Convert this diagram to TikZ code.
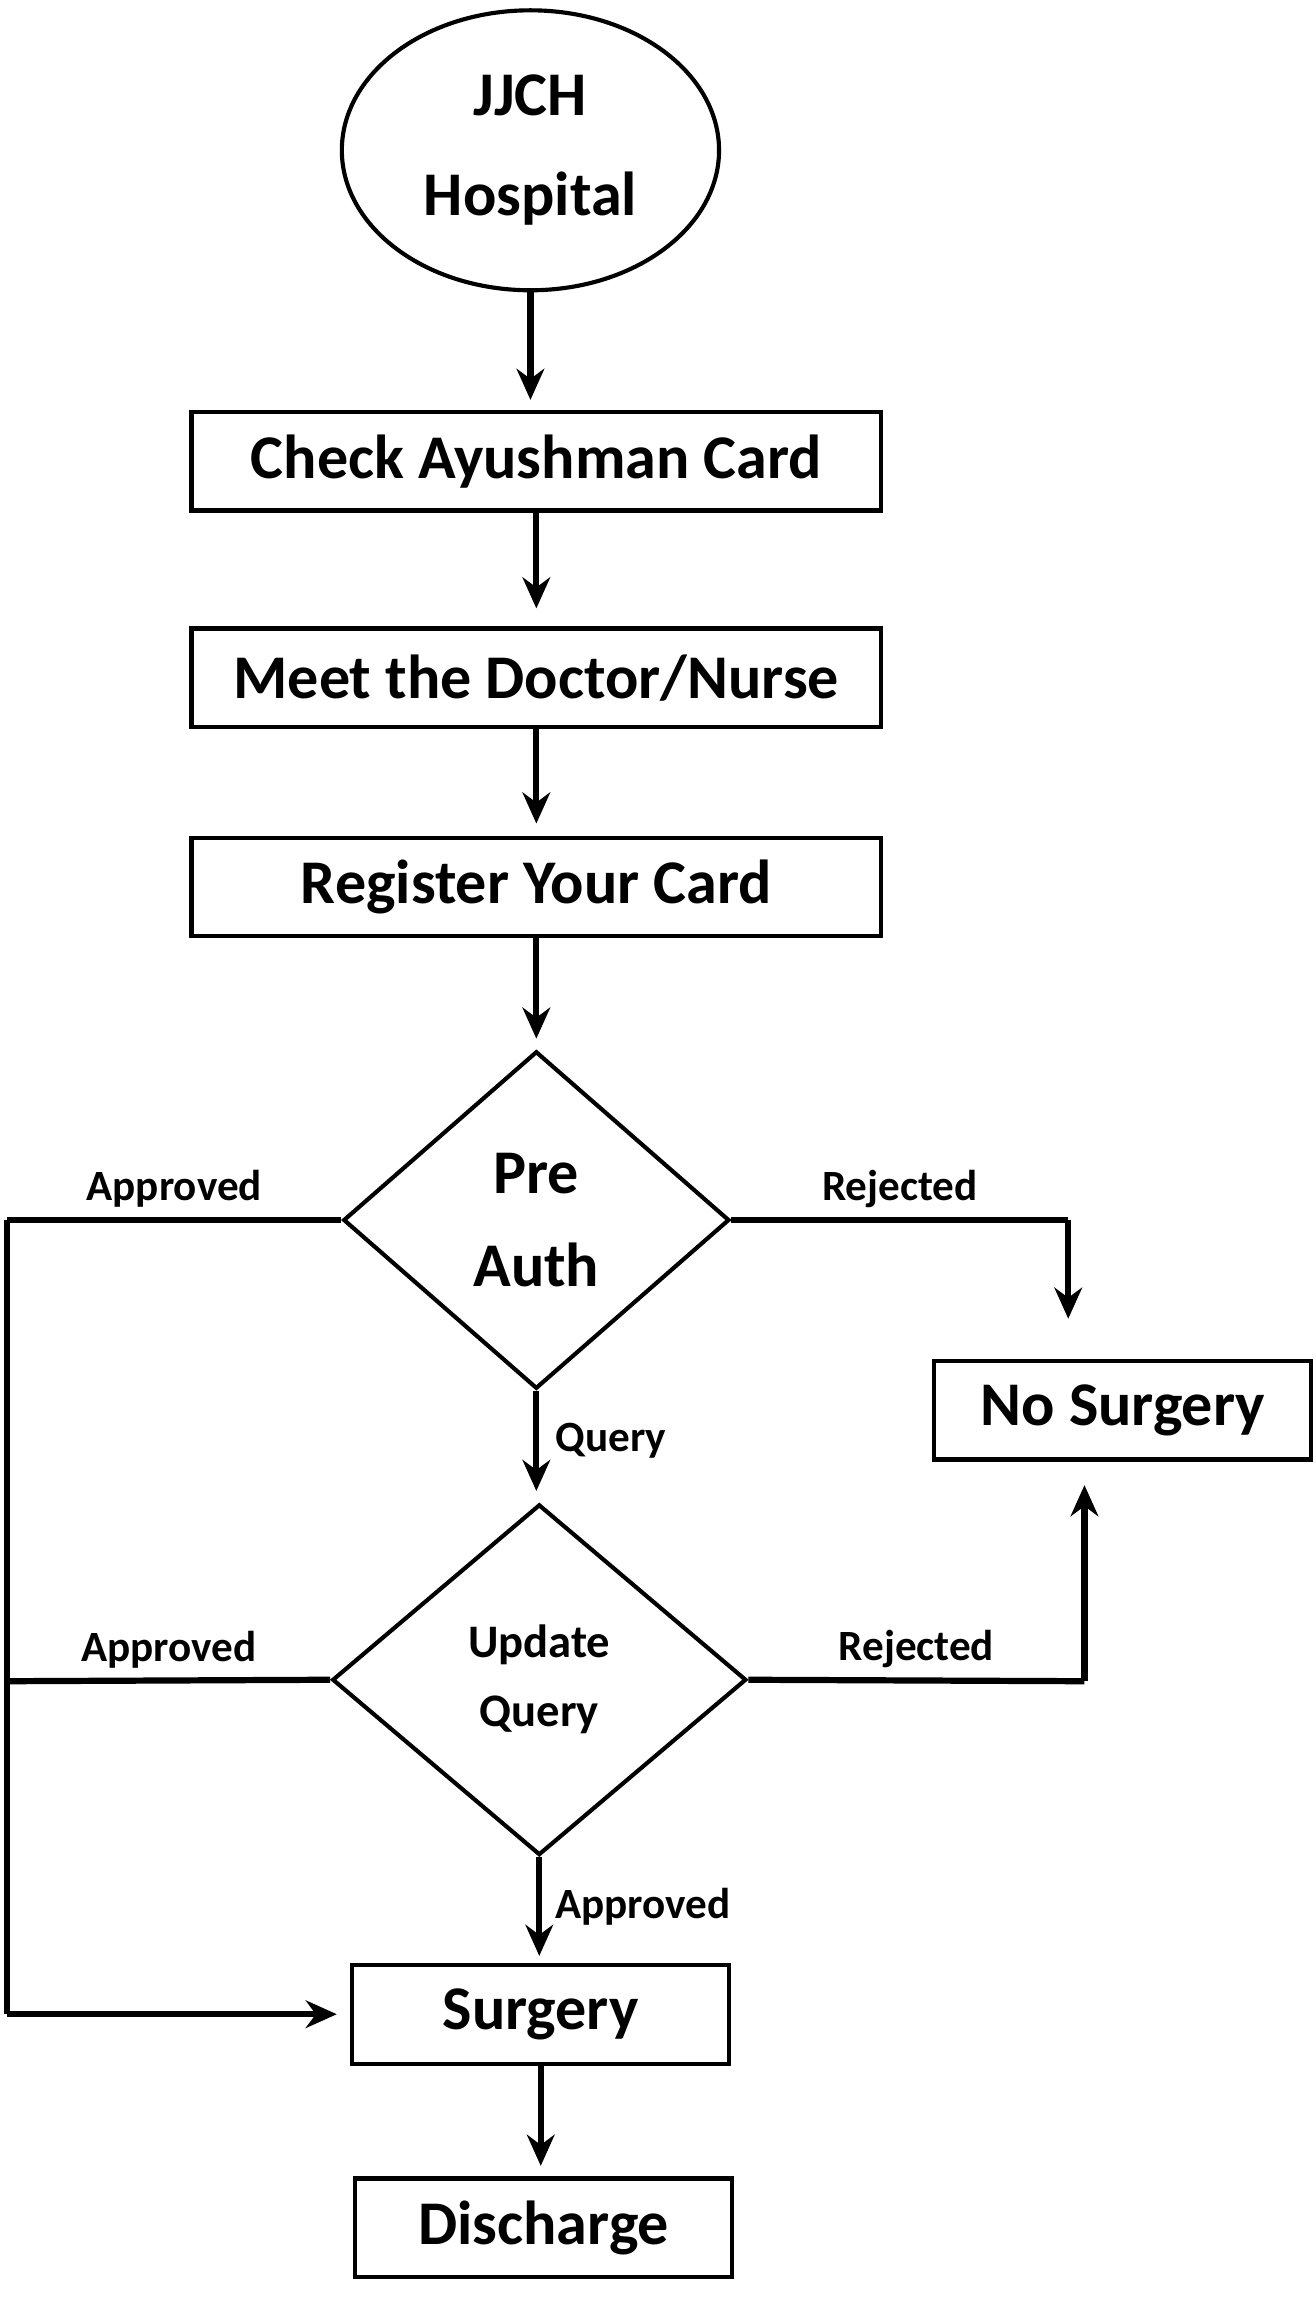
\documentclass[tikz,border=0pt]{standalone}
\usepackage{fontspec}
\setmainfont{Carlito}
\usetikzlibrary{shapes.geometric,arrows.meta}
\tikzset{
  box/.style={draw, line width=2.4pt, minimum width=14.04cm, minimum height=2.01cm, inner sep=0pt, font=\fontsize{36}{40}\selectfont\bfseries},
  smallbox/.style={box, minimum width=7.68cm},
  dec/.style={draw, diamond, line width=2.4pt, inner sep=0pt, align=center},
  lab/.style={font=\fontsize{25}{28}\selectfont\bfseries},
  flow/.style={line width=3.6pt, -{Stealth[length=18pt,width=16pt]}},
  line/.style={line width=3.6pt}
}
\begin{document}
\begin{tikzpicture}[x=0.03cm, y=-0.03cm]
	\useasboundingbox (0,0) rectangle (893,1563);
	%start
	\node[draw, ellipse, line width=2.4pt, minimum width=7.68cm, minimum height=5.7cm, align=center, font=\fontsize{36}{58}\selectfont\bfseries] (hosp) at (360,102) {JJCH\\Hospital};
	%steps
	\node[box] (check) at (364,313) {Check Ayushman Card};
	\node[box] (meet) at (364,460) {Meet the Doctor/Nurse};
	\node[box] (reg) at (364,602) {Register Your Card};
	%decisions
	\node[dec, minimum width=7.86cm, minimum height=6.87cm, font=\fontsize{36}{54}\selectfont\bfseries] (pre) at (364,828) {Pre\\Auth};
	\node[dec, minimum width=8.43cm, minimum height=7.14cm, font=\fontsize{27}{40}\selectfont\bfseries] (upd) at (366,1140) {Update\\Query};
	%ends
	\node[smallbox] (nosurg) at (762,957) {No Surgery};
	\node[smallbox] (surg) at (367,1367) {Surgery};
	\node[smallbox] (dis) at (369,1512) {Discharge};
	%helper points
	\coordinate (rt) at (725,828);
	\coordinate (rtend) at (725,895);
	\coordinate (rb) at (736,1141);
	\coordinate (lt) at (5,828);
	\coordinate (lm) at (5,1141);
	\coordinate (lb) at (5,1367);
	%main flow
	\draw[flow] (hosp.south) -- ++(0,73);
	\draw[flow] (check.south) -- ++(0,65);
	\draw[flow] (meet.south) -- ++(0,64);
	\draw[flow] (reg.south) -- ++(0,68);
	\draw[flow] (pre.south) -- ++(0,68) node[midway, right=6pt, lab] {Query};
	\draw[flow] (upd.south) -- ++(0,67) node[midway, right=4pt, lab] {Approved};
	\draw[flow] (surg.south) -- ++(0,68);
	%rejected
	\draw[line] (pre.east) -- (rt) node[midway, above=2pt, lab] {Rejected};
	\draw[flow] (rt) -- (rtend);
	\draw[line] (upd.east) -- (rb) node[midway, above=2pt, lab] {Rejected};
	\draw[flow] (rb) -- ([xshift=-26*0.03cm, yshift=-16*0.03cm]nosurg.south);
	%approved
	\draw[line] (pre.west) -- (lt) node[midway, above=2pt, lab] {Approved};
	\draw[line] (upd.west) -- (lm) node[midway, above=2pt, lab] {Approved};
	\draw[line] (lt) -- (lb);
	\draw[flow] (lb) -- ([xshift=-9*0.03cm]surg.west);
\end{tikzpicture}
\end{document}
